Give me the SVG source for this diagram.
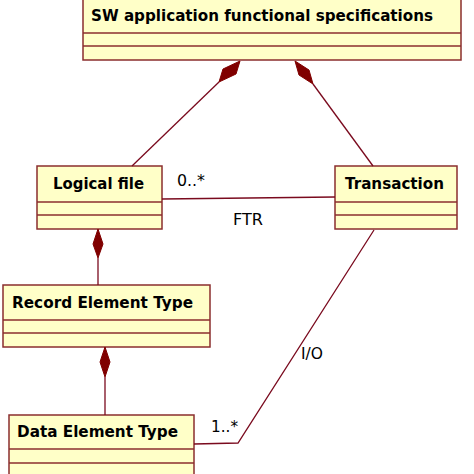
<svg xmlns="http://www.w3.org/2000/svg" width="474" height="474" viewBox="0 0 474 474">
<style>
.box{fill:#FFFFC8;stroke:#8B2E2E;stroke-width:1.5}
.div{stroke:#8B2E2E;stroke-width:1.5}
.title{font-family:"DejaVu Sans",Verdana,sans-serif;font-weight:bold;font-size:16.5px;fill:#000}
.lbl{font-family:"DejaVu Sans",Verdana,sans-serif;font-size:15.5px;fill:#000}
.conn{stroke:#7A0A1E;stroke-width:1.3;fill:none}
.dia{fill:#800000;stroke:#800000;stroke-width:1}
</style>
<rect width="474" height="474" fill="#fff"/>
<g id="sw-spec">
<rect class="box" x="83" y="-2" width="378" height="62"/>
<line class="div" x1="83" y1="33" x2="461" y2="33"/>
<line class="div" x1="83" y1="46" x2="461" y2="46"/>
<text class="title" x="91" y="21" textLength="342" lengthAdjust="spacingAndGlyphs">SW application functional specifications</text>
</g>
<g id="logical-file">
<rect class="box" x="37" y="166" width="125" height="63"/>
<line class="div" x1="37" y1="202" x2="162" y2="202"/>
<line class="div" x1="37" y1="215" x2="162" y2="215"/>
<text class="title" x="53" y="189" textLength="91" lengthAdjust="spacingAndGlyphs">Logical file</text>
</g>
<g id="transaction">
<rect class="box" x="335" y="166" width="122" height="63"/>
<line class="div" x1="335" y1="202" x2="457" y2="202"/>
<line class="div" x1="335" y1="215" x2="457" y2="215"/>
<text class="title" x="345" y="189" textLength="99" lengthAdjust="spacingAndGlyphs">Transaction</text>
</g>
<g id="record-element-type">
<rect class="box" x="3" y="285" width="207" height="62"/>
<line class="div" x1="3" y1="320" x2="210" y2="320"/>
<line class="div" x1="3" y1="333" x2="210" y2="333"/>
<text class="title" x="12" y="308" textLength="181" lengthAdjust="spacingAndGlyphs">Record Element Type</text>
</g>
<g id="data-element-type">
<rect class="box" x="9" y="415" width="185" height="64"/>
<line class="div" x1="9" y1="449" x2="194" y2="449"/>
<line class="div" x1="9" y1="463" x2="194" y2="463"/>
<text class="title" x="17" y="437" textLength="161" lengthAdjust="spacingAndGlyphs">Data Element Type</text>
</g>
<g id="connectors">
<line class="conn" x1="219" y1="82" x2="132" y2="166"/>
<polygon class="dia" points="240,61 236,74 219,82 223,69"/>
<line class="conn" x1="313" y1="84" x2="373" y2="166"/>
<polygon class="dia" points="295,61 309,70 313,84 299,75"/>
<line class="conn" x1="162" y1="199" x2="335" y2="197"/>
<text class="lbl" x="177" y="186" textLength="28" lengthAdjust="spacingAndGlyphs">0..*</text>
<text class="lbl" x="233" y="225" textLength="30" lengthAdjust="spacingAndGlyphs">FTR</text>
<line class="conn" x1="98" y1="258" x2="98" y2="285"/>
<polygon class="dia" points="98,229 103,244 98,258 93,244"/>
<line class="conn" x1="105" y1="377" x2="105" y2="415"/>
<polygon class="dia" points="105,347 110,362 105,377 100,362"/>
<polyline class="conn" points="374,230 238,443 194,444"/>
<text class="lbl" x="301" y="359" textLength="22" lengthAdjust="spacingAndGlyphs">I/O</text>
<text class="lbl" x="211" y="432" textLength="27" lengthAdjust="spacingAndGlyphs">1..*</text>
</g>
</svg>
